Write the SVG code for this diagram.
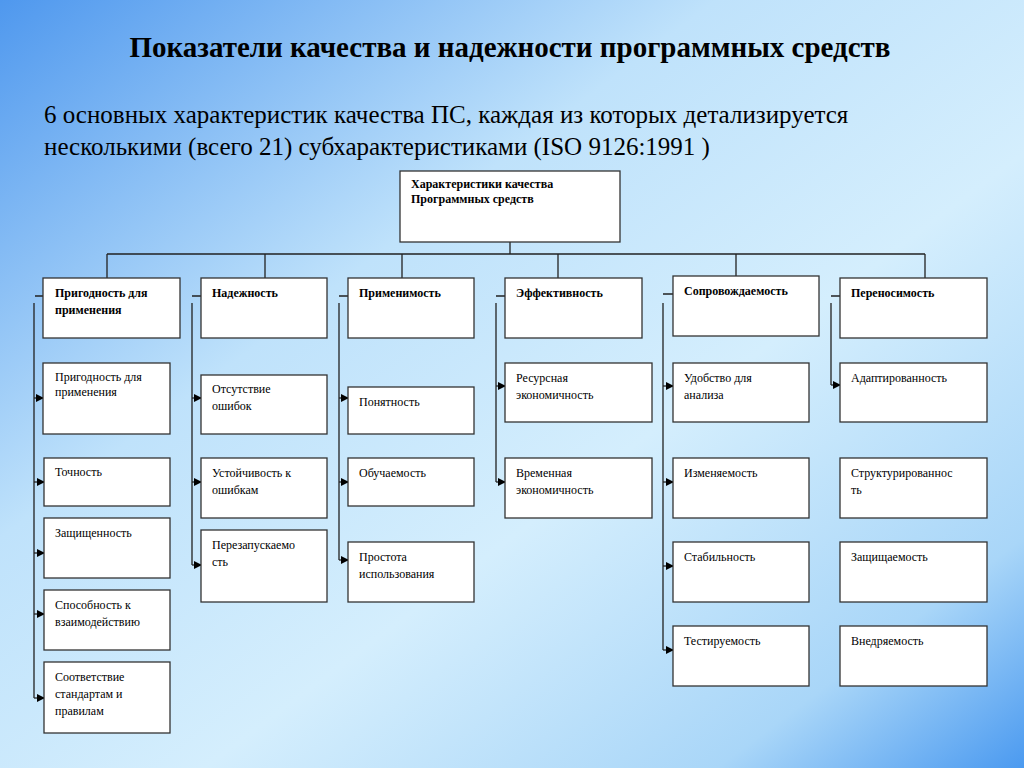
<svg xmlns="http://www.w3.org/2000/svg" width="1024" height="768" viewBox="0 0 1024 768">
<defs>
<linearGradient id="bg" x1="0" y1="0" x2="1" y2="1">
<stop offset="0" stop-color="#4f98ee"/>
<stop offset="0.35" stop-color="#bfe2fb"/>
<stop offset="0.6" stop-color="#d4eefd"/>
<stop offset="0.85" stop-color="#a9d6f8"/>
<stop offset="1" stop-color="#4b9af0"/>
</linearGradient>
<marker id="ar" markerWidth="8" markerHeight="8" refX="7" refY="4" orient="auto" markerUnits="userSpaceOnUse">
<path d="M0,0 L8,4 L0,8 Z" fill="#000"/>
</marker>
<style>
.b{fill:#fff;stroke:#333;stroke-width:1.3}
.t{font-family:"Liberation Serif",serif;font-size:12px;fill:#000}
.h{font-weight:bold}
.ti{font-family:"Liberation Serif",serif;font-size:29px;font-weight:bold;fill:#000}
.s{font-family:"Liberation Serif","DejaVu Serif",serif;font-size:25px;fill:#000}
.c{stroke:#222;stroke-width:1.3;fill:none}
.a{stroke:#222;stroke-width:1.3;marker-end:url(#ar)}
</style>
</defs>
<rect width="1024" height="768" fill="url(#bg)"/>
<text class="ti" x="510" y="57" text-anchor="middle">Показатели качества и надежности программных средств</text>
<text class="s" x="44" y="123">6 основных характеристик качества ПС, каждая из которых детализируется</text>
<text class="s" x="44" y="155">несколькими (всего 21) субхарактеристиками (ISO 9126:1991 )</text>

<g id="connectors">
<path class="c" d="M510,242V254M107,254H925M107,254V278M265,254V278M402,254V278M558,254V278M736,254V276M925,254V278"/>
<path class="c" d="M35,296H43M34,303V698M192,296H201M192,303V565M339,296H348M339,303V560M496,296H505M496,303V482M663,294H673M663,303V650M831,296H840M831,303V385"/>
<line class="a" x1="34" y1="398" x2="43" y2="398"/>
<line class="a" x1="34" y1="482" x2="44" y2="482"/>
<line class="a" x1="34" y1="553" x2="44" y2="553"/>
<line class="a" x1="34" y1="614" x2="44" y2="614"/>
<line class="a" x1="34" y1="698" x2="44" y2="698"/>
<line class="a" x1="192" y1="398" x2="201" y2="398"/>
<line class="a" x1="192" y1="482" x2="201" y2="482"/>
<line class="a" x1="192" y1="565" x2="201" y2="565"/>
<line class="a" x1="339" y1="398" x2="348" y2="398"/>
<line class="a" x1="339" y1="482" x2="348" y2="482"/>
<line class="a" x1="339" y1="560" x2="348" y2="560"/>
<line class="a" x1="496" y1="386" x2="505" y2="386"/>
<line class="a" x1="496" y1="482" x2="505" y2="482"/>
<line class="a" x1="663" y1="386" x2="673" y2="386"/>
<line class="a" x1="663" y1="482" x2="673" y2="482"/>
<line class="a" x1="663" y1="566" x2="673" y2="566"/>
<line class="a" x1="663" y1="650" x2="673" y2="650"/>
<line class="a" x1="831" y1="385" x2="840" y2="385"/>
</g>

<g id="root"><rect class="b" x="400" y="171" width="220" height="71"/><text class="t h" x="411" y="188">Характеристики качества</text><text class="t h" x="411" y="203">Программных средств</text></g>

<g id="p1"><rect class="b" x="43" y="278" width="137" height="60"/><text class="t h" x="55" y="297">Пригодность для</text><text class="t h" x="55" y="314">применения</text></g>
<g id="p2"><rect class="b" x="201" y="278" width="126" height="60"/><text class="t h" x="212" y="297">Надежность</text></g>
<g id="p3"><rect class="b" x="348" y="278" width="126" height="60"/><text class="t h" x="359" y="297">Применимость</text></g>
<g id="p4"><rect class="b" x="505" y="278" width="137" height="60"/><text class="t h" x="516" y="297">Эффективность</text></g>
<g id="p5"><rect class="b" x="673" y="276" width="146" height="60"/><text class="t h" x="684" y="295">Сопровождаемость</text></g>
<g id="p6"><rect class="b" x="840" y="278" width="147" height="60"/><text class="t h" x="851" y="297">Переносимость</text></g>

<g id="c11"><rect class="b" x="43" y="363" width="127" height="71"/><text class="t" x="55" y="381">Пригодность для</text><text class="t" x="55" y="396">применения</text></g>
<g id="c12"><rect class="b" x="44" y="458" width="126" height="48"/><text class="t" x="55" y="476">Точность</text></g>
<g id="c13"><rect class="b" x="44" y="518" width="126" height="60"/><text class="t" x="55" y="537">Защищенность</text></g>
<g id="c14"><rect class="b" x="44" y="590" width="126" height="60"/><text class="t" x="55" y="609">Способность к</text><text class="t" x="55" y="626">взаимодействию</text></g>
<g id="c15"><rect class="b" x="44" y="662" width="126" height="71"/><text class="t" x="55" y="681">Соответствие</text><text class="t" x="55" y="698">стандартам и</text><text class="t" x="55" y="715">правилам</text></g>

<g id="c21"><rect class="b" x="201" y="375" width="126" height="59"/><text class="t" x="212" y="393">Отсутствие</text><text class="t" x="212" y="410">ошибок</text></g>
<g id="c22"><rect class="b" x="201" y="458" width="126" height="60"/><text class="t" x="212" y="477">Устойчивость к</text><text class="t" x="212" y="494">ошибкам</text></g>
<g id="c23"><rect class="b" x="201" y="530" width="126" height="72"/><text class="t" x="212" y="549">Перезапускаемо</text><text class="t" x="212" y="566">сть</text></g>

<g id="c31"><rect class="b" x="348" y="387" width="126" height="47"/><text class="t" x="359" y="406">Понятность</text></g>
<g id="c32"><rect class="b" x="348" y="458" width="126" height="48"/><text class="t" x="359" y="477">Обучаемость</text></g>
<g id="c33"><rect class="b" x="348" y="542" width="126" height="60"/><text class="t" x="359" y="561">Простота</text><text class="t" x="359" y="578">использования</text></g>

<g id="c41"><rect class="b" x="505" y="363" width="147" height="59"/><text class="t" x="516" y="382">Ресурсная</text><text class="t" x="516" y="399">экономичность</text></g>
<g id="c42"><rect class="b" x="505" y="458" width="147" height="60"/><text class="t" x="516" y="477">Временная</text><text class="t" x="516" y="494">экономичность</text></g>

<g id="c51"><rect class="b" x="673" y="363" width="136" height="59"/><text class="t" x="684" y="382">Удобство для</text><text class="t" x="684" y="399">анализа</text></g>
<g id="c52"><rect class="b" x="673" y="458" width="136" height="60"/><text class="t" x="684" y="477">Изменяемость</text></g>
<g id="c53"><rect class="b" x="673" y="542" width="136" height="60"/><text class="t" x="684" y="561">Стабильность</text></g>
<g id="c54"><rect class="b" x="673" y="626" width="136" height="60"/><text class="t" x="684" y="645">Тестируемость</text></g>

<g id="c61"><rect class="b" x="840" y="363" width="147" height="59"/><text class="t" x="851" y="382">Адаптированность</text></g>
<g id="c62"><rect class="b" x="840" y="458" width="147" height="60"/><text class="t" x="851" y="477">Структурированнос</text><text class="t" x="851" y="494">ть</text></g>
<g id="c63"><rect class="b" x="840" y="542" width="147" height="60"/><text class="t" x="851" y="561">Защищаемость</text></g>
<g id="c64"><rect class="b" x="840" y="626" width="147" height="60"/><text class="t" x="851" y="645">Внедряемость</text></g>
</svg>
